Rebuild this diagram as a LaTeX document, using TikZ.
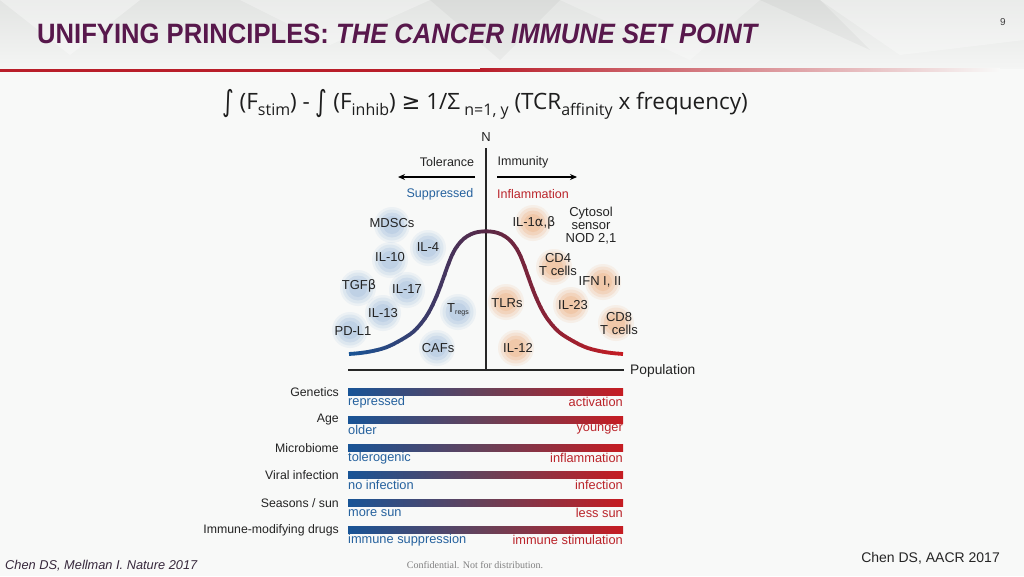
\documentclass[tikz,border=0pt]{standalone}
\usepackage{fontspec}
\setmainfont{Liberation Sans}
\newfontfamily\formfont{Open Sans}
\newfontfamily\symfont{DejaVu Sans}
\newfontfamily\seriffont{Liberation Serif}
\usetikzlibrary{arrows.meta}
\definecolor{bgcol}{RGB}{248,249,248}
\definecolor{bandtop}{RGB}{226,228,226}
\definecolor{bandbot}{RGB}{244,245,244}
\definecolor{titlecol}{RGB}{88,24,76}
\definecolor{rulered}{RGB}{185,30,42}
\definecolor{formcol}{RGB}{30,30,30}
\definecolor{labcol}{RGB}{35,35,35}
\definecolor{cBlue}{RGB}{24,84,150}
\definecolor{cMid}{RGB}{88,40,70}
\definecolor{cRed}{RGB}{198,28,34}
\definecolor{barMid}{RGB}{105,65,88}
\definecolor{txtBlue}{RGB}{38,98,158}
\definecolor{txtRed}{RGB}{186,36,42}
\definecolor{bubBlue}{RGB}{172,196,224}
\definecolor{bubOrange}{RGB}{238,184,142}
\definecolor{footcol}{RGB}{55,40,60}
\newcommand\fsubx[1]{\raisebox{-0.28em}{\fontsize{16}{18}\selectfont #1}}
\newcommand\symx[1]{{\symfont #1}}
\newcommand\intx{\raisebox{-0.12em}{\scalebox{1}[1.3]{\symfont ∫}}}
\newcommand\bellpath{plot[smooth, tension=0.6] coordinates {(349,354) (362,352.8) (375,350.5) (387,347) (400,340.5) (413,332) (423,321) (430,310) (437,295) (443,279) (448,265) (453,253) (458,245) (464,238.5) (471,234.2) (478,232) (486,231.3) (494,232) (501,234.2) (508,238.5) (514,245) (519,253) (524,265) (529,279) (535,295) (542,310) (549,321) (559,332) (572,340.5) (585,347) (597,350.5) (610,352.8) (623,354)}}
\tikzset{
  lab/.style={font=\fontsize{13}{13}\selectfont, text=labcol, inner sep=0, align=center},
  barlab/.style={font=\fontsize{12.3}{13}\selectfont, text=labcol, inner sep=0, anchor=east},
  lefttxt/.style={font=\fontsize{12.8}{13}\selectfont, text=txtBlue, inner sep=0, anchor=west},
  righttxt/.style={font=\fontsize{12.8}{13}\selectfont, text=txtRed, inner sep=0, anchor=east},
  gradbar/.style={left color=cBlue, right color=cRed, middle color=barMid, draw=none},
  axisline/.style={draw=black!85, line width=1.1pt},
  bellstroke/.style={line width=3.8pt},
  dirarrow/.style={draw=black, line width=1.2pt, -{Stealth[length=7pt,width=6pt]}},
  pics/bub/.style={code={\foreach \r/\o in {18/0.15,15.5/0.22,12.5/0.32,9/0.42}{\fill[#1,opacity=\o] (0,0) circle[radius=\r pt];}}}
}
\begin{document}
\begin{tikzpicture}[x=1pt,y=-1pt]
\useasboundingbox (0,0) rectangle (1024,576);
% background
\fill[bgcol] (0,0) rectangle (1024,576);
\shade[top color=bandtop, bottom color=bandbot] (0,0) rectangle (1024,68);
\fill[white,opacity=0.35] (0,0) -- (140,0) -- (70,55) -- cycle;
\fill[white,opacity=0.3] (240,0) -- (430,0) -- (330,45) -- cycle;
\fill[white,opacity=0.25] (560,0) -- (760,0) -- (690,60) -- cycle;
\fill[white,opacity=0.3] (820,0) -- (1024,0) -- (1024,40) -- (900,55) -- cycle;
\fill[black,opacity=0.03] (430,0) -- (560,0) -- (500,60) -- cycle;
\fill[black,opacity=0.03] (760,0) -- (820,0) -- (870,50) -- cycle;
% red rule
\fill[rulered] (0,68.5) rectangle (480,71.5);
\shade[left color=rulered, right color=bgcol] (480,68.5) rectangle (1000,71.5);
% title
\node[anchor=base west, inner sep=0, text=titlecol, font=\fontsize{28}{30}\selectfont\bfseries, xscale=0.915] (title) at (37,43) {UNIFYING PRINCIPLES: \textit{THE CANCER IMMUNE SET POINT}};
\node[inner sep=0, text=black!75, font=\fontsize{10}{11}\selectfont] (pagenum) at (1003,22) {9};
% formula
\node[anchor=base, inner sep=0, text=formcol, font=\formfont\fontsize{22.5}{26}\selectfont] (formula) at (485,109) {\intx\ (F\fsubx{stim}) - \intx\ (F\fsubx{inhib}) \symx{≥} 1/Σ\fsubx{ n=1, y} (TCR\fsubx{affinity} x frequency)};
% axes
\coordinate (ytop) at (486,148);
\coordinate (ybot) at (486,371);
\coordinate (xl) at (348,370);
\coordinate (xr) at (624,370);
\draw[axisline] (ytop) -- (ybot);
\draw[axisline] (xl) -- (xr);
\node[lab] (N) at (486,137) {N};
\node[lab, anchor=west, font=\fontsize{13.8}{14}\selectfont] (pop) at (630,371) {Population};
% direction arrows
\node[lab, font=\fontsize{12.5}{14}\selectfont] (tol) at (447,162) {Tolerance};
\node[lab, font=\fontsize{12.5}{14}\selectfont] (imm) at (523,162) {Immunity};
\coordinate (tolA) at (475,177);
\coordinate (tolB) at (398,177);
\coordinate (immA) at (497,177);
\coordinate (immB) at (577,177);
\draw[dirarrow] (tolA) -- (tolB);
\draw[dirarrow] (immA) -- (immB);
\node[lab, text=txtBlue, font=\fontsize{12.5}{14}\selectfont] (supp) at (440,194) {Suppressed};
\node[lab, text=txtRed, font=\fontsize{12.5}{14}\selectfont] (infl) at (533,194) {Inflammation};
% bubbles
\pic at (392,225) {bub=bubBlue};
\pic at (428,248) {bub=bubBlue};
\pic at (390,260) {bub=bubBlue};
\pic at (358,288) {bub=bubBlue};
\pic at (407,290) {bub=bubBlue};
\pic at (383,313) {bub=bubBlue};
\pic at (458,312) {bub=bubBlue};
\pic at (350,330) {bub=bubBlue};
\pic at (437,348) {bub=bubBlue};
\pic at (533,223) {bub=bubOrange};
\pic at (554,267) {bub=bubOrange};
\pic at (603,282) {bub=bubOrange};
\pic at (506,302) {bub=bubOrange};
\pic at (571,305) {bub=bubOrange};
\pic at (616,323) {bub=bubOrange};
\pic at (516,348) {bub=bubOrange};
% bell curve with colour gradient (vertical strips)
\foreach \i in {0,...,69} {
  \pgfmathsetmacro\xs{346+\i*4}
  \pgfmathsetmacro\xe{\xs+4.3}
  \pgfmathsetmacro\xc{\xs+2}
  \ifdim\xc pt<486pt
    \pgfmathsetmacro\t{max(0,min(100,(\xc-349)/137*100))}
    \colorlet{segcol}{cMid!\t!cBlue}
  \else
    \pgfmathsetmacro\t{max(0,min(100,(\xc-486)/137*100))}
    \colorlet{segcol}{cRed!\t!cMid}
  \fi
  \begin{scope}
    \clip (\xs,210) rectangle (\xe,362);
    \draw[bellstroke, segcol] \bellpath;
  \end{scope}
}
% left labels
\node[lab] (mdsc) at (392,223) {MDSCs};
\node[lab] (il4) at (428,247) {IL-4};
\node[lab] (il10) at (390,257) {IL-10};
\node[lab] (tgfb) at (359,286) {TGF\symx{β}};
\node[lab] (il17) at (407,289) {IL-17};
\node[lab] (il13) at (383,313) {IL-13};
\node[lab] (treg) at (458,310) {T{\fontsize{7}{8}\selectfont\raisebox{-0.5ex}{regs}}};
\node[lab] (pdl1) at (353,331) {PD-L1};
\node[lab] (caf) at (438,348) {CAFs};
% right labels
\node[lab] (il1) at (534,223) {IL-1\symx{α},\symx{β}};
\node[lab] (cyto) at (591,226) {Cytosol\\sensor\\NOD 2,1};
\node[lab] (cd4) at (558,264.5) {CD4\\T cells};
\node[lab] (ifn) at (600,282) {IFN I, II};
\node[lab] (tlr) at (507,303) {TLRs};
\node[lab] (il23) at (573,305) {IL-23};
\node[lab] (cd8) at (619,323.5) {CD8\\T cells};
\node[lab] (il12) at (518,348) {IL-12};
% factor bars
\foreach \n/\yy/\name/\lt/\rt in {
  gen/388/{Genetics}/{repressed}/{activation},
  age/416/{Age}/{older}/{younger},
  mic/444/{Microbiome}/{tolerogenic}/{inflammation},
  vir/471.5/{Viral infection}/{no infection}/{infection},
  sea/499/{Seasons / sun}/{more sun}/{less sun},
  drug/526.5/{Immune-modifying drugs}/{immune suppression}/{immune stimulation}} {
  \shade[gradbar] (348,\yy) rectangle (623,\yy+7);
  \node[barlab] (lab\n) at (339,\yy+4) {\name};
  \node[lefttxt] (l\n) at (348,\yy+13.8) {\lt};
  \node[righttxt] (r\n) at (623,\yy+13.8) {\rt};
}
% footer
\node[anchor=base west, inner sep=0, text=footcol, font=\fontsize{12.8}{14}\selectfont\itshape] (cite1) at (5,569) {Chen DS, Mellman I. Nature 2017};
\node[inner sep=0, text=black!50, font=\seriffont\fontsize{10}{12}\selectfont] (conf) at (475,565) {Confidential. Not for distribution.};
\node[anchor=east, inner sep=0, text=black!85, font=\fontsize{14}{16}\selectfont] (cite2) at (1000,558) {Chen DS, AACR 2017};
\end{tikzpicture}
\end{document}
